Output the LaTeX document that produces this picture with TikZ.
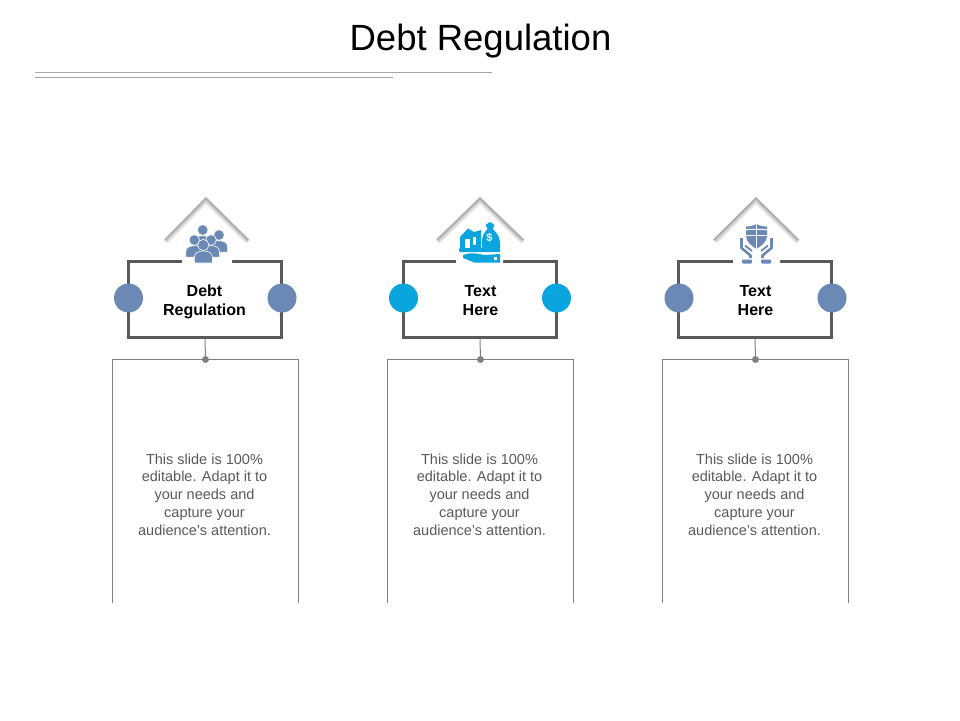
\documentclass[tikz,border=0pt]{standalone}
\usepackage{fontspec}
\setmainfont{Liberation Sans}
\usetikzlibrary{positioning, calc}
\definecolor{slateblue1}{RGB}{107, 137, 181}
\definecolor{skyblue1}{RGB}{10, 165, 222}
\definecolor{framegray}{RGB}{89, 89, 89}
\definecolor{linegray}{RGB}{128, 128, 128}
\definecolor{rulegray}{RGB}{166, 166, 166}
\definecolor{bodygray}{RGB}{89, 89, 89}
\tikzset{
  titletext/.style={font=\fontsize{36.5}{40}\selectfont, text=black},
  rulerline/.style={rulegray, line width=1},
  labelbox/.style={draw=framegray, line width=3, minimum width=153, minimum height=76, inner sep=0},
  labeltext/.style={align=center, inner sep=0, font=\fontsize{16}{19}\selectfont\bfseries},
  blobblue/.style={circle, fill=slateblue1, minimum size=29, inner sep=0},
  blobsky/.style={circle, fill=skyblue1, minimum size=29, inner sep=0},
  pindot/.style={circle, fill=linegray, minimum size=7, inner sep=0},
  stemline/.style={linegray, line width=1},
  panelline/.style={linegray, line width=0.8},
  bodytext/.style={font=\fontsize{14.5}{17.7}\selectfont, text=bodygray, align=center},
  roofglow/.style={gray!18, line width=5.5},
  roofmid/.style={gray!35, line width=3.6},
  roofline/.style={gray!62!white, line width=2},
}
\newcommand{\personmark}[3]{%
  \begin{scope}[shift={(#1,#2)}, scale=#3]
    \fill[slateblue1, draw=white, line width=0.6] (-9,18) -- (-9,12) .. controls (-9,7.5) and (-4,6) .. (0,6) .. controls (4,6) and (9,7.5) .. (9,12) -- (9,18) -- cycle;
    \fill[slateblue1, draw=white, line width=0.6] (0,0) circle (5.6pt);
  \end{scope}}
\begin{document}
\begin{tikzpicture}[x=1pt, y=-1pt]
  \useasboundingbox (0,0) rectangle (960,720);

  % title
  \node[titletext] (title) at (480.5,41) {Debt Regulation};
  \draw[rulerline] (35,72) -- (492,72);
  \draw[rulerline] (35,77) -- (393,77);

  % first column
  \draw[roofglow] (166,241.5) -- (206,200.5) -- (248,241.5);
  \draw[roofmid] (165.5,241) -- (206,199.5) -- (248,241);
  \draw[roofline] (165,240) -- (206,198.5) -- (248,240);
  \node[labelbox] (boxa) at (205,299.5) {};
  \node[labeltext] (namea) at (204.5,302) {Debt\\Regulation};
  \fill[white, rounded corners=3] (182,256) rectangle (232,267);
  \node[blobblue] (lefta) at (128.5,298) {};
  \node[blobblue] (righta) at (282,298) {};
  \node[pindot] (dota) at (205.5,359.5) {};
  \draw[panelline] (112.5,603) |- (298.5,359.5) -- (298.5,603);
  \draw[stemline] (boxa.south) -- (dota);
  \node[bodytext] (texta) at (204.5,494.5) {This slide is 100\%\\editable. Adapt it to\\your needs and\\capture your\\audience's attention.};
  \personmark{219}{235}{0.95}
  \personmark{202.7}{230}{0.95}
  \personmark{194.3}{240}{0.95}
  \personmark{211}{240}{0.95}
  \personmark{203.3}{245}{1}

  % second column
  \draw[roofglow] (438,241.5) -- (480,200.5) -- (523,241.5);
  \draw[roofmid] (437.5,241) -- (480,199.5) -- (523,241);
  \draw[roofline] (437,240) -- (480,198.5) -- (523,240);
  \node[labelbox] (boxb) at (480,299.5) {};
  \node[labeltext] (nameb) at (480.5,301) {Text\\Here};
  \fill[white, rounded corners=3] (456,256) rectangle (503,267);
  \node[blobsky] (leftb) at (403.5,298) {};
  \node[blobsky] (rightb) at (556.5,298) {};
  \node[pindot] (dotb) at (480.5,359.5) {};
  \draw[panelline] (387.5,603) |- (573.5,359.5) -- (573.5,603);
  \draw[stemline] (boxb.south) -- (dotb);
  \node[bodytext] (textb) at (479.5,494.5) {This slide is 100\%\\editable. Adapt it to\\your needs and\\capture your\\audience's attention.};
  % house, bag and hand
  \fill[skyblue1] (460,237) -- (468,228.5) -- (474,232) -- (481,230) -- (481,248) -- (460,248) -- cycle;
  \fill[white] (464.5,239) rectangle (469.5,248);
  \fill[white] (473,237) rectangle (476,245);
  \fill[skyblue1] (490,222) -- (494.5,225) -- (492.5,229) .. controls (498,233) and (501,240) .. (500,248) -- (482.5,248) .. controls (480.5,240) and (483,233) .. (487.5,229) -- (485.5,225) -- cycle;
  \node[text=white, font=\fontsize{11}{11}\selectfont\bfseries, inner sep=0] (dollar) at (489.5,238) {\$};
  \fill[skyblue1, rounded corners=1] (459,248) rectangle (500,252);
  \fill[skyblue1] (463,255) .. controls (470,252) and (478,253.5) .. (484,255) -- (492,254.5) -- (500,254) -- (500,262.5) -- (474,262.5) .. controls (470,261) and (466,259) .. (463,258) -- cycle;
  \fill[white] (494,256.5) rectangle (497,259.5);

  % third column
  \draw[roofglow] (715,241.5) -- (756,200.5) -- (798,241.5);
  \draw[roofmid] (714.5,241) -- (756,199.5) -- (798,241);
  \draw[roofline] (714,240) -- (756,198.5) -- (798,240);
  \node[labelbox] (boxc) at (755,299.5) {};
  \node[labeltext] (namec) at (755.5,301) {Text\\Here};
  \fill[white, rounded corners=3] (733,256) rectangle (780,267);
  \node[blobblue] (leftc) at (679,298) {};
  \node[blobblue] (rightc) at (832,298) {};
  \node[pindot] (dotc) at (755.5,359.5) {};
  \draw[panelline] (662.5,603) |- (848.5,359.5) -- (848.5,603);
  \draw[stemline] (boxc.south) -- (dotc);
  \node[bodytext] (textc) at (754.5,494.5) {This slide is 100\%\\editable. Adapt it to\\your needs and\\capture your\\audience's attention.};
  % shield and hands
  \fill[slateblue1] (756.5,224) .. controls (760,226) and (764,226.5) .. (767,226.5) -- (767,236) .. controls (767,242) and (761,246) .. (756.5,249) .. controls (752,246) and (746,242) .. (746,236) -- (746,226.5) .. controls (749,226.5) and (753,226) .. (756.5,224) -- cycle;
  \draw[white, line width=1.5] (756.5,224) -- (756.5,249) (745,235.5) -- (768,235.5);
  \draw[white, line width=1] (745,230) .. controls (750,229) and (763,229) .. (768,230);
  \draw[slateblue1, line width=2.6, line join=round] (741.5,238) -- (741.5,248) -- (750.5,255.5) -- (750.5,258);
  \draw[slateblue1, line width=2.6, line join=round] (771.5,238) -- (771.5,248) -- (762.5,255.5) -- (762.5,258);
  \draw[slateblue1, line width=1.8] (745,245.5) -- (752,251) (768,245.5) -- (761,251);
  \fill[slateblue1, rounded corners=1] (742,259.5) rectangle (752,263.5);
  \fill[slateblue1, rounded corners=1] (761,259.5) rectangle (771,263.5);
\end{tikzpicture}
\end{document}
